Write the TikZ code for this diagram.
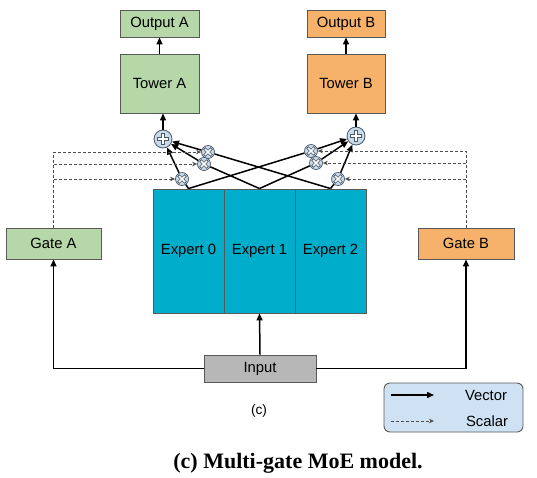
\documentclass[tikz,border=0pt]{standalone}
\usepackage{fontspec}
\setmainfont{Liberation Sans}
\newfontfamily\captionserif{Liberation Serif}
\usetikzlibrary{arrows.meta}
\definecolor{greenbox}{HTML}{B6D7A8}
\definecolor{orangebox}{HTML}{F6B26B}
\definecolor{expertfill}{RGB}{0,173,202}
\definecolor{inputfill}{HTML}{B7B7B7}
\definecolor{boxline}{HTML}{595959}
\definecolor{mixfill}{HTML}{C9DAEB}
\definecolor{mixline}{HTML}{4A5866}
\definecolor{legendfill}{HTML}{CFE2F3}
\definecolor{dashgray}{HTML}{4D4D4D}
\begin{document}
\begin{tikzpicture}[x=1pt,y=-1pt,
  box/.style={draw=boxline,line width=0.9pt,inner sep=0pt,minimum width=79pt,font=\fontsize{14.8}{17}\selectfont},
  vec/.style={line width=1.5pt,-{Triangle[length=7pt,width=6pt]}},
  plain/.style={line width=1.5pt},
  sca/.style={dashgray,line width=1pt,dash pattern=on 3pt off 2pt,-{Stealth[length=5pt,width=4.5pt]}},
  plus/.style={circle,draw=mixline,fill=mixfill,line width=0.8pt,minimum size=18pt,inner sep=0pt,
    path picture={
      \draw[mixline,line width=4.6pt] ([xshift=-6pt]path picture bounding box.center) -- ([xshift=6pt]path picture bounding box.center)
        ([yshift=-6pt]path picture bounding box.center) -- ([yshift=6pt]path picture bounding box.center);
      \draw[white,line width=2.8pt] ([xshift=-5.1pt]path picture bounding box.center) -- ([xshift=5.1pt]path picture bounding box.center)
        ([yshift=-5.1pt]path picture bounding box.center) -- ([yshift=5.1pt]path picture bounding box.center);}},
  mix/.style={circle,draw=mixline,fill=mixfill,line width=0.7pt,minimum size=13pt,inner sep=0pt,
    path picture={
      \draw[mixline,line width=3pt] ([shift={(-3.7pt,-3.7pt)}]path picture bounding box.center) -- ([shift={(3.7pt,3.7pt)}]path picture bounding box.center)
        ([shift={(-3.7pt,3.7pt)}]path picture bounding box.center) -- ([shift={(3.7pt,-3.7pt)}]path picture bounding box.center);
      \draw[white,line width=1.6pt] ([shift={(-3pt,-3pt)}]path picture bounding box.center) -- ([shift={(3pt,3pt)}]path picture bounding box.center)
        ([shift={(-3pt,3pt)}]path picture bounding box.center) -- ([shift={(3pt,-3pt)}]path picture bounding box.center);}}]

\useasboundingbox (0,0) rectangle (537,477);

%towers and outputs
\node[box,fill=greenbox,minimum height=27pt] (outA) at (159.5,23.5) {Output A};
\node[box,fill=greenbox,minimum height=59pt] (towerA) at (159.5,83.5) {Tower A};
\node[box,fill=orangebox,minimum height=27pt,minimum width=78pt] (outB) at (346,23.5) {Output B};
\node[box,fill=orangebox,minimum height=59pt,minimum width=78pt] (towerB) at (346,83.5) {Tower B};

%gates
\node[box,fill=greenbox,minimum height=31pt,minimum width=95pt] (gateA) at (53.5,243.5) {Gate A};
\node[box,fill=orangebox,minimum height=31pt,minimum width=96pt] (gateB) at (466,243.5) {Gate B};

%experts
\node[box,fill=expertfill,minimum height=124pt,minimum width=71pt] (exp0) at (188.5,251) {Expert 0};
\node[box,fill=expertfill,minimum height=124pt,minimum width=71pt] (exp1) at (259.5,251) {Expert 1};
\node[box,fill=expertfill,minimum height=124pt,minimum width=71pt] (exp2) at (330.5,251) {Expert 2};

\node[box,fill=inputfill,minimum height=27pt,minimum width=112pt] (input) at (260,368.5) {Input};

%sums and mixers
\node[plus] (plusA) at (163,139) {};
\node[plus] (plusB) at (356,136) {};
\node[mix] (mA1) at (208,152) {};
\node[mix] (mA2) at (204,164) {};
\node[mix] (mA3) at (182,179) {};
\node[mix] (mB1) at (311,151) {};
\node[mix] (mB2) at (316,163) {};
\node[mix] (mB3) at (338,179) {};

\draw[vec] (towerA) -- (outA);
\draw[vec] (towerB) -- (outB);
\draw[vec] (plusA) -- (plusA |- towerA.south);
\draw[vec] (plusB) -- (plusB |- towerB.south);

\path (exp0.north) edge[plain] (mA3) edge[plain] (mB1);
\path (exp1.north) edge[plain] (mA2) edge[plain] (mB2);
\path (exp2.north) edge[plain] (mA1) edge[plain] (mB3);

\foreach \m in {mA1,mA2,mA3} \draw[vec] (\m) -- (plusA);
\foreach \m in {mB1,mB2,mB3} \draw[vec] (\m) -- (plusB);

%gate scalars
\draw[sca] (gateA.north) |- (mA1);
\draw[sca] (gateA.north |- mA2) -- (mA2);
\draw[sca] (gateA.north |- mA3) -- (mA3);
\draw[sca] (gateB.north) |- (mB1);
\draw[sca] (gateB.north |- mB2) -- (mB2);
\draw[sca] (gateB.north |- mB3) -- (mB3);

%input
\draw[vec] (input.north) -- (exp1.south);
\draw[vec] (input.west) -| (gateA.south);
\draw[vec] (input.east) -| (gateB.south);

\node[font=\fontsize{13.7}{16}\selectfont] (sub) at (259,411) {(c)};

%legend
\node[draw=boxline,fill=legendfill,rounded corners=6pt,line width=0.9pt,minimum width=139pt,minimum height=49pt] (legend) at (453.5,407.5) {};
\coordinate (vecL) at (391,395);
\coordinate (vecR) at (434,395);
\coordinate (scaL) at (391,421);
\coordinate (scaR) at (434,421);
\draw[vec] (vecL) -- (vecR);
\draw[sca] (scaL) -- (scaR);
\node[font=\fontsize{14.8}{17}\selectfont] (vecT) at (486,395) {Vector};
\node[font=\fontsize{14.8}{17}\selectfont] (scaT) at (487,421) {Scalar};

\node[font=\captionserif\bfseries\fontsize{22}{26}\selectfont] (caption) at (298,463) {(c) Multi-gate MoE model.};
\end{tikzpicture}
\end{document}
